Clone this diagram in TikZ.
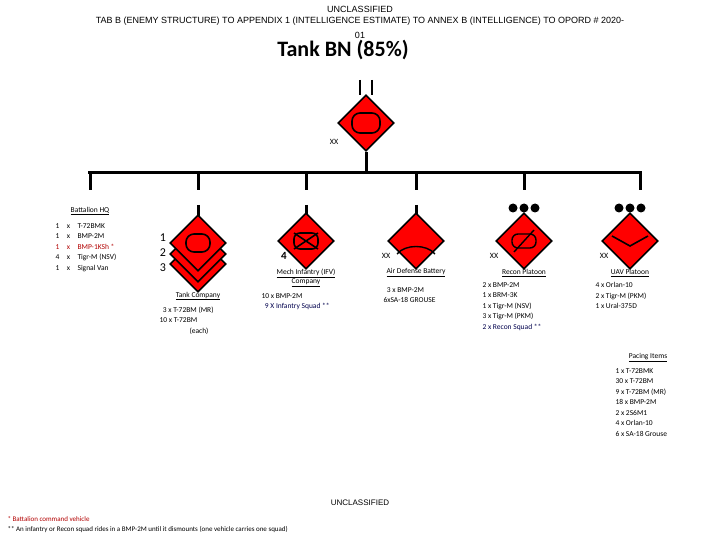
\documentclass[tikz,border=0pt]{standalone}
\usetikzlibrary{shapes.geometric}
\usepackage{fontspec}
\setmainfont{Carlito}
\newfontfamily\arialf{Liberation Sans}
\begin{document}
\begin{tikzpicture}[x=1pt,y=-1pt,
 dia/.style={draw=black,line width=1.6pt,fill=red,diamond,minimum width=56pt,minimum height=56pt,inner sep=0pt,shape aspect=1},
 ln/.style={line width=3pt,black},
 lab/.style={font=\fontsize{7.5}{10.5}\selectfont,align=left,anchor=north west},
 ttl/.style={font=\fontsize{7.5}{9}\selectfont,anchor=center}]
\useasboundingbox (0,0) rectangle (720,540);
\node[font=\arialf\fontsize{9}{9}\selectfont] (u1) at (360,9) {UNCLASSIFIED};
\node[font=\arialf\fontsize{9}{9}\selectfont] (t1) at (360,21) {TAB B (ENEMY STRUCTURE) TO APPENDIX 1 (INTELLIGENCE ESTIMATE) TO ANNEX B (INTELLIGENCE) TO OPORD \# 2020-};
\node[font=\arialf\fontsize{9}{9}\selectfont] (t2) at (360,35) {01};
\node[font=\fontsize{22}{24}\selectfont\bfseries] (tt) at (343,50) {Tank BN (85\%)};
% top symbol
\draw[line width=1.4pt] (360,80) -- (360,95) (372,80) -- (372,95);
\node[dia] (top) at (366,123) {};
\draw[line width=1.6pt,rounded corners=8pt] (352,113) rectangle (380,133);
\node[font=\fontsize{8}{8}\selectfont] (xx0) at (334,142) {XX};
\draw[ln] (top.south) -- (366,173);
\draw[ln] (88,173) -- (642,173);
\foreach \x in {90,198,306,416,524,640} \draw[ln] (\x,173) -- (\x,190);
% HQ
\node[ttl] (hq) at (90,211) {\underline{Battalion HQ}};
\node[lab] (hql) at (52,220) {1\quad x\quad T-72BMK\\1\quad x\quad BMP-2M\\\textcolor{red!70!black}{1\quad x\quad BMP-1KSh *}\\4\quad x\quad Tigr-M (NSV)\\1\quad x\quad Signal Van};
% tank company
\draw[ln] (198,205) -- (198,216);
\node[dia] (tk3) at (198,264) {};
\node[dia] (tk2) at (198,254) {};
\node[dia] (tk1) at (198,243) {};
\draw[line width=1.6pt,rounded corners=8pt] (186,234) rectangle (210,252);
\node[font=\fontsize{12}{15}\selectfont,align=center] (n123) at (163,253) {1\\2\\3};
\node[ttl] (tkl) at (198,296) {\underline{Tank Company}};
\node[lab] (tkt) at (156,303) {\ \ 3 x T-72BM (MR)\\10 x T-72BM\\\hspace*{30pt}(each)};
% mech inf
\draw[ln] (306,205) -- (306,216);
\node[dia] (mi) at (306,241) {};
\draw[line width=1.6pt,rounded corners=6pt] (294,233) rectangle (318,249);
\draw[line width=1.6pt] (294,233) -- (318,249) (294,249) -- (318,233);
\node[font=\fontsize{11}{11}\selectfont\bfseries] (n4) at (284,256) {4};
\node[ttl,align=center] (mil) at (306,278) {\underline{Mech Infantry (IFV)}\\\underline{Company}};
\node[lab] (mit) at (258,290) {10 x BMP-2M\\\ \ \textcolor{blue!30!black}{9 X Infantry Squad **}};
% air defense
\draw[ln] (416,205) -- (416,216);
\node[dia] (ad) at (416,241) {};
\draw[line width=1.4pt] (397,254) .. controls (405,244) and (427,244) .. (435,254);
\node[font=\fontsize{8}{8}\selectfont] (xx1) at (386,256) {XX};
\node[ttl] (adl) at (416,273) {\underline{Air Defense Battery}};
\node[lab] (adt) at (380,284) {\ \ 3 x BMP-2M\\6xSA-18 GROUSE};
% recon
\foreach \d in {-11,0,11} \fill (524+\d,208) circle (4.5pt);
\node[dia] (rc) at (524,241) {};
\draw[line width=1.4pt,rounded corners=6pt] (512,234) rectangle (536,248);
\draw[line width=1.4pt] (514,252) -- (534,230);
\node[font=\fontsize{8}{8}\selectfont] (xx2) at (494,256) {XX};
\node[ttl] (rcl) at (524,273) {\underline{Recon Platoon}};
\node[lab] (rct) at (479,279) {2 x BMP-2M\\1 x BRM-3K\\1 x Tigr-M (NSV)\\3 x Tigr-M (PKM)\\\textcolor{blue!30!black}{2 x Recon Squad **}};
% uav
\foreach \d in {-11,0,11} \fill (630+\d,208) circle (4.5pt);
\node[dia] (uv) at (630,241) {};
\draw[line width=1.6pt] (612,236) -- (630,246) -- (648,236);
\node[font=\fontsize{8}{8}\selectfont] (xx3) at (604,256) {XX};
\node[ttl] (uvl) at (630,273) {\underline{UAV Platoon}};
\node[lab] (uvt) at (592,279) {4 x Orlan-10\\2 x Tigr-M (PKM)\\1 x Ural-375D};
% pacing
\node[ttl] (pc) at (648,358) {\underline{Pacing Items}};
\node[lab] (pct) at (612,365) {1 x T-72BMK\\30 x T-72BM\\9 x T-72BM (MR)\\18 x BMP-2M\\2 x 2S6M1\\4 x Orlan-10\\6 x SA-18 Grouse};
\node[font=\arialf\fontsize{8}{8}\selectfont] (u2) at (360,503) {UNCLASSIFIED};
\node[lab,font=\fontsize{7}{9.5}\selectfont] (fn) at (4,513) {\textcolor{red!70!black}{* Battalion command vehicle}\\** An infantry or Recon squad rides in a BMP-2M until it dismounts (one vehicle carries one squad)};
\end{tikzpicture}
\end{document}
